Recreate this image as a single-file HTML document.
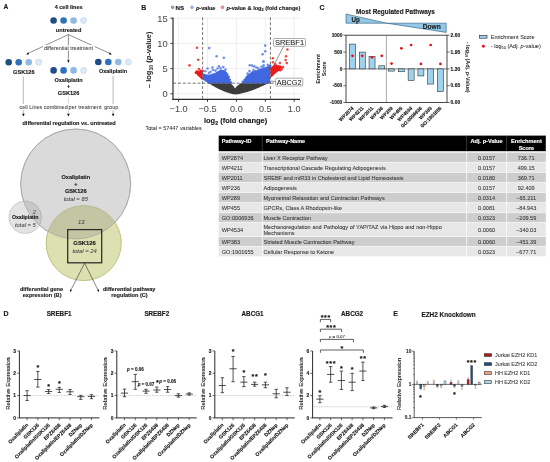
<!DOCTYPE html>
<html><head><meta charset="utf-8"><title>Figure</title>
<style>html,body{margin:0;padding:0;background:#fff;}svg{display:block;}</style></head>
<body><svg width="550" height="462" viewBox="0 0 550 462" font-family="&apos;Liberation Sans&apos;, Arial, sans-serif">
<rect width="550" height="462" fill="#fff"/>
<text x="3.60" y="8.80" font-size="6.6" font-weight="bold" fill="#1a1a1a" stroke="#1a1a1a" stroke-width="0.14">A</text>
<text x="68.60" y="8.70" font-size="5.5" font-weight="bold" text-anchor="middle" fill="#1a1a1a" stroke="#1a1a1a" stroke-width="0.14">4 cell lines</text>
<circle cx="53.60" cy="20.50" r="3.30" fill="#1f4e87"/>
<circle cx="63.60" cy="20.50" r="3.30" fill="#2f72bb"/>
<circle cx="73.60" cy="20.50" r="3.30" fill="#8fb8e3"/>
<circle cx="83.60" cy="20.50" r="3.05" fill="#dde9f6" stroke="#b5cdea" stroke-width="0.5"/>
<text x="68.60" y="31.90" font-size="5.6" font-weight="bold" text-anchor="middle" fill="#1a1a1a" stroke="#1a1a1a" stroke-width="0.14">untreated</text>
<line x1="68.40" y1="34.60" x2="27.60" y2="53.60" stroke="#333" stroke-width="0.55"/>
<line x1="68.40" y1="34.60" x2="110.40" y2="53.70" stroke="#333" stroke-width="0.55"/>
<line x1="68.40" y1="34.60" x2="68.40" y2="61.00" stroke="#333" stroke-width="0.55"/>
<polygon points="26.20,54.40 28.04,52.21 29.06,54.38" fill="#111111"/>
<polygon points="111.80,54.40 108.94,54.42 109.93,52.23" fill="#111111"/>
<polygon points="68.40,62.90 67.20,60.30 69.60,60.30" fill="#111111"/>
<rect x="43.00" y="45.00" width="51.50" height="5.60" fill="#fff"/>
<text x="68.40" y="49.90" font-size="5.4" text-anchor="middle" fill="#444444" stroke="#444444" stroke-width="0.06">differential treatment</text>
<circle cx="8.70" cy="62.20" r="3.30" fill="#1f4e87"/>
<circle cx="18.70" cy="62.20" r="3.30" fill="#2f72bb"/>
<circle cx="28.70" cy="62.20" r="3.30" fill="#8fb8e3"/>
<circle cx="38.70" cy="62.20" r="3.05" fill="#dde9f6" stroke="#b5cdea" stroke-width="0.5"/>
<text x="23.80" y="73.60" font-size="5.6" font-weight="bold" text-anchor="middle" fill="#1a1a1a" stroke="#1a1a1a" stroke-width="0.14">GSK126</text>
<circle cx="53.60" cy="70.40" r="3.30" fill="#1f4e87"/>
<circle cx="63.60" cy="70.40" r="3.30" fill="#2f72bb"/>
<circle cx="73.60" cy="70.40" r="3.30" fill="#8fb8e3"/>
<circle cx="83.60" cy="70.40" r="3.05" fill="#dde9f6" stroke="#b5cdea" stroke-width="0.5"/>
<text x="68.60" y="81.80" font-size="5.5" font-weight="bold" text-anchor="middle" fill="#1a1a1a" stroke="#1a1a1a" stroke-width="0.14">Oxaliplatin</text>
<text x="68.60" y="88.00" font-size="5.5" font-weight="bold" text-anchor="middle" fill="#1a1a1a" stroke="#1a1a1a" stroke-width="0.14">+</text>
<text x="68.60" y="95.00" font-size="5.6" font-weight="bold" text-anchor="middle" fill="#1a1a1a" stroke="#1a1a1a" stroke-width="0.14">GSK126</text>
<circle cx="98.30" cy="62.00" r="3.30" fill="#1f4e87"/>
<circle cx="108.30" cy="62.00" r="3.30" fill="#2f72bb"/>
<circle cx="118.30" cy="62.00" r="3.30" fill="#8fb8e3"/>
<circle cx="128.30" cy="62.00" r="3.05" fill="#dde9f6" stroke="#b5cdea" stroke-width="0.5"/>
<text x="113.00" y="73.00" font-size="5.5" font-weight="bold" text-anchor="middle" fill="#1a1a1a" stroke="#1a1a1a" stroke-width="0.14">Oxaliplatin</text>
<line x1="23.30" y1="76.50" x2="23.30" y2="114.80" stroke="#707070" stroke-width="0.5"/>
<line x1="113.10" y1="75.80" x2="113.10" y2="114.80" stroke="#707070" stroke-width="0.5"/>
<line x1="68.40" y1="97.50" x2="68.40" y2="114.80" stroke="#b0b0b0" stroke-width="0.5"/>
<rect x="18.50" y="104.00" width="100.50" height="6.20" fill="#fff"/>
<text x="19.40" y="108.60" font-size="5.5" fill="#444444" stroke="#444444" stroke-width="0.06">cell Lines combined</text>
<text x="68.60" y="108.60" font-size="5.55" fill="#444444" stroke="#444444" stroke-width="0.06">per treatment</text>
<text x="104.20" y="108.60" font-size="5.5" fill="#444444" stroke="#444444" stroke-width="0.06">group</text>
<polygon points="23.40,116.60 22.05,113.70 24.75,113.70" fill="#111111"/>
<polygon points="68.40,116.60 67.05,113.70 69.75,113.70" fill="#111111"/>
<polygon points="113.10,116.60 111.75,113.70 114.45,113.70" fill="#111111"/>
<text x="69.10" y="125.40" font-size="5.58" font-weight="bold" text-anchor="middle" fill="#1a1a1a" stroke="#1a1a1a" stroke-width="0.14">differential regulation vs. untreated</text>
<defs><clipPath id="cBig"><circle cx="75.7" cy="184" r="55"/></clipPath></defs>
<circle cx="83.70" cy="243.00" r="37.50" fill="#dde0b1" stroke="#b6bc74" stroke-width="0.65"/>
<circle cx="75.70" cy="184.00" r="55.00" fill="#dadada" stroke="#9d9d9d" stroke-width="0.6"/>
<g clip-path="url(#cBig)">
<circle cx="83.70" cy="243.00" r="37.50" fill="#c4c6a3"/>
<circle cx="25.20" cy="217.30" r="16.30" fill="#c8c8c8"/>
</g>
<defs><clipPath id="cOut"><path d="M0,150 H140 V300 H0 Z M130.7,184 A55,55 0 1,0 20.7,184 A55,55 0 1,0 130.7,184 Z" clip-rule="evenodd"/></clipPath></defs>
<g clip-path="url(#cOut)">
<circle cx="25.20" cy="217.30" r="16.30" fill="#e3e3e3" stroke="#b5b5b5" stroke-width="0.6"/>
<circle cx="83.70" cy="243.00" r="37.50" fill="#dde0b1" stroke="#b6bc74" stroke-width="0.65"/>
</g>
<circle cx="75.70" cy="184.00" r="55.00" fill="none" stroke="#9d9d9d" stroke-width="0.6"/>
<g clip-path="url(#cBig)">
<circle cx="83.70" cy="243.00" r="37.50" fill="none" stroke="#a9ad7c" stroke-width="0.6"/>
<circle cx="25.20" cy="217.30" r="16.30" fill="none" stroke="#a5a5a5" stroke-width="0.6"/>
</g>
<text x="75.80" y="179.00" font-size="5.6" font-weight="bold" text-anchor="middle" fill="#1a1a1a" stroke="#1a1a1a" stroke-width="0.14">Oxaliplatin</text>
<text x="75.80" y="185.60" font-size="5.5" font-weight="bold" text-anchor="middle" fill="#1a1a1a" stroke="#1a1a1a" stroke-width="0.14">+</text>
<text x="75.80" y="192.90" font-size="5.7" font-weight="bold" text-anchor="middle" fill="#1a1a1a" stroke="#1a1a1a" stroke-width="0.14">GSK126</text>
<text x="75.80" y="200.50" font-size="5.85" font-style="italic" text-anchor="middle" fill="#444" stroke="#444" stroke-width="0.06">total = 65</text>
<text x="34.40" y="213.80" font-size="5.8" font-style="italic" text-anchor="middle" fill="#444" stroke="#444" stroke-width="0.06">2</text>
<text x="25.20" y="219.20" font-size="5.2" font-weight="bold" text-anchor="middle" fill="#1a1a1a" stroke="#1a1a1a" stroke-width="0.14">Oxaliplatin</text>
<text x="25.40" y="226.70" font-size="5.8" font-style="italic" text-anchor="middle" fill="#444" stroke="#444" stroke-width="0.06">total = 5</text>
<text x="81.20" y="223.70" font-size="5.8" font-style="italic" text-anchor="middle" fill="#444" stroke="#444" stroke-width="0.06">13</text>
<rect x="67.70" y="229.60" width="34.00" height="33.20" fill="none" stroke="#2a2a2a" stroke-width="1.25"/>
<text x="84.60" y="245.40" font-size="5.9" font-weight="bold" text-anchor="middle" fill="#1a1a1a" stroke="#1a1a1a" stroke-width="0.14">GSK126</text>
<text x="84.60" y="253.10" font-size="5.85" font-style="italic" text-anchor="middle" fill="#444" stroke="#444" stroke-width="0.06">total = 24</text>
<line x1="84.60" y1="263.20" x2="71.00" y2="289.80" stroke="#111111" stroke-width="0.5"/>
<line x1="84.60" y1="263.20" x2="97.90" y2="289.80" stroke="#111111" stroke-width="0.5"/>
<polygon points="70.00,292.00 69.98,289.36 71.99,290.26" fill="#111111"/>
<polygon points="99.00,292.00 97.01,290.26 99.02,289.36" fill="#111111"/>
<text x="41.50" y="290.90" font-size="5.6" font-weight="bold" text-anchor="middle" fill="#1a1a1a" stroke="#1a1a1a" stroke-width="0.14">differential gene</text>
<text x="42.10" y="297.40" font-size="5.6" font-weight="bold" text-anchor="middle" fill="#1a1a1a" stroke="#1a1a1a" stroke-width="0.14">expression (B)</text>
<text x="129.20" y="290.90" font-size="5.6" font-weight="bold" text-anchor="middle" fill="#1a1a1a" stroke="#1a1a1a" stroke-width="0.14">differential pathway</text>
<text x="129.50" y="297.40" font-size="5.6" font-weight="bold" text-anchor="middle" fill="#1a1a1a" stroke="#1a1a1a" stroke-width="0.14">regulation (C)</text>
<text x="141.20" y="9.90" font-size="7" font-weight="bold" fill="#1a1a1a" stroke="#1a1a1a" stroke-width="0.14">B</text>
<line x1="178.60" y1="17.40" x2="178.60" y2="99.30" stroke="#e4e4e4" stroke-width="0.6"/>
<line x1="207.50" y1="17.40" x2="207.50" y2="99.30" stroke="#e4e4e4" stroke-width="0.6"/>
<line x1="236.40" y1="17.40" x2="236.40" y2="99.30" stroke="#e4e4e4" stroke-width="0.6"/>
<line x1="265.30" y1="17.40" x2="265.30" y2="99.30" stroke="#e4e4e4" stroke-width="0.6"/>
<line x1="294.20" y1="17.40" x2="294.20" y2="99.30" stroke="#e4e4e4" stroke-width="0.6"/>
<line x1="173.00" y1="93.80" x2="301.50" y2="93.80" stroke="#e4e4e4" stroke-width="0.6"/>
<line x1="173.00" y1="68.60" x2="301.50" y2="68.60" stroke="#e4e4e4" stroke-width="0.6"/>
<line x1="173.00" y1="43.40" x2="301.50" y2="43.40" stroke="#e4e4e4" stroke-width="0.6"/>
<line x1="173.00" y1="18.20" x2="301.50" y2="18.20" stroke="#e4e4e4" stroke-width="0.6"/>
<circle cx="172.60" cy="7.30" r="1.35" fill="#b0b0b0" stroke="#5a5a5a" stroke-width="0.55"/>
<text x="175.60" y="9.50" font-size="6.2" font-weight="bold" fill="#1a1a1a" stroke="#1a1a1a" stroke-width="0.14">NS</text>
<circle cx="192.00" cy="7.30" r="1.35" fill="#a9bbf0" stroke="#5f7fe4" stroke-width="0.55"/>
<text x="195.90" y="9.50" font-size="5.6" font-weight="bold" fill="#1a1a1a" stroke="#1a1a1a" stroke-width="0.14"><tspan font-style="italic">p</tspan>-value</text>
<circle cx="222.50" cy="7.30" r="1.35" fill="#f6a0a0" stroke="#ec2a2a" stroke-width="0.55"/>
<text x="226.40" y="9.50" font-size="5.6" font-weight="bold" fill="#1a1a1a" stroke="#1a1a1a" stroke-width="0.14"><tspan font-style="italic">p</tspan>-value &amp; log<tspan font-size="3.8" dy="1.2">2</tspan><tspan dy="-1.2"> (fold change)</tspan></text>
<polygon points="208.30,83.20 209.30,83.67 210.30,84.28 211.30,84.87 212.29,85.46 213.29,86.03 214.29,86.59 215.29,87.13 216.29,87.66 217.28,88.18 218.28,88.69 219.28,89.17 220.28,89.65 221.28,90.11 222.28,90.55 223.28,90.98 224.27,91.39 225.27,91.78 226.27,92.16 227.27,92.51 228.27,92.84 229.27,93.15 230.26,93.44 231.26,93.70 232.26,93.93 233.26,94.13 234.26,94.29 235.25,94.39 236.25,94.36 237.25,94.26 238.25,94.13 239.25,93.96 240.25,93.78 241.25,93.57 242.24,93.35 243.24,93.11 244.24,92.85 245.24,92.58 246.24,92.29 247.23,91.99 248.23,91.67 249.23,91.35 250.23,91.01 251.23,90.66 252.23,90.30 253.22,89.92 254.22,89.54 255.22,89.15 256.22,88.74 257.22,88.33 258.22,87.90 259.21,87.47 260.21,87.03 261.21,86.58 262.21,86.12 263.21,85.65 264.21,85.17 265.20,84.69 266.20,84.19 267.20,83.69 268.20,83.20 268.20,83.20 240.50,83.20 236.60,86.60 235.00,88.40 233.60,86.20 230.60,83.20 208.30,83.20" fill="#3c3c3c"/>
<polygon points="208.50,83.40 202.70,79.50 202.70,74.40 204.40,75.00 206.00,75.50 207.50,75.80 209.00,75.70 210.90,75.40 212.50,74.80 214.50,73.90 216.70,73.00 218.20,72.20 219.60,71.50 221.00,71.00 222.50,70.90 224.00,71.20 225.00,71.90 226.20,73.10 227.40,74.80 228.70,77.00 229.80,79.70 230.90,82.50 231.40,83.40" fill="#4067e0"/>
<polygon points="241.50,83.40 242.80,81.60 244.70,79.60 246.20,77.80 247.60,76.20 249.00,75.00 250.50,73.90 252.00,72.80 253.50,71.80 255.50,71.20 257.80,70.60 259.30,70.10 260.70,69.60 262.20,69.20 263.60,68.80 265.00,68.40 266.50,68.00 268.00,67.20 269.20,66.20 270.20,65.60 270.20,83.40" fill="#4067e0"/>
<circle cx="202.70" cy="74.40" r="1.20" fill="#4067e0"/>
<circle cx="204.40" cy="75.00" r="1.20" fill="#4067e0"/>
<circle cx="206.00" cy="75.50" r="1.20" fill="#4067e0"/>
<circle cx="207.50" cy="75.80" r="1.20" fill="#4067e0"/>
<circle cx="209.00" cy="75.70" r="1.20" fill="#4067e0"/>
<circle cx="210.90" cy="75.40" r="1.20" fill="#4067e0"/>
<circle cx="212.50" cy="74.80" r="1.20" fill="#4067e0"/>
<circle cx="214.50" cy="73.90" r="1.20" fill="#4067e0"/>
<circle cx="216.70" cy="73.00" r="1.20" fill="#4067e0"/>
<circle cx="218.20" cy="72.20" r="1.20" fill="#4067e0"/>
<circle cx="219.60" cy="71.50" r="1.20" fill="#4067e0"/>
<circle cx="221.00" cy="71.00" r="1.20" fill="#4067e0"/>
<circle cx="222.50" cy="70.90" r="1.20" fill="#4067e0"/>
<circle cx="224.00" cy="71.20" r="1.20" fill="#4067e0"/>
<circle cx="225.00" cy="71.90" r="1.20" fill="#4067e0"/>
<circle cx="226.20" cy="73.10" r="1.20" fill="#4067e0"/>
<circle cx="227.40" cy="74.80" r="1.20" fill="#4067e0"/>
<circle cx="228.70" cy="77.00" r="1.20" fill="#4067e0"/>
<circle cx="229.80" cy="79.70" r="1.20" fill="#4067e0"/>
<circle cx="230.90" cy="82.50" r="1.20" fill="#4067e0"/>
<circle cx="242.80" cy="81.60" r="1.20" fill="#4067e0"/>
<circle cx="244.70" cy="79.60" r="1.20" fill="#4067e0"/>
<circle cx="246.20" cy="77.80" r="1.20" fill="#4067e0"/>
<circle cx="247.60" cy="76.20" r="1.20" fill="#4067e0"/>
<circle cx="249.00" cy="75.00" r="1.20" fill="#4067e0"/>
<circle cx="250.50" cy="73.90" r="1.20" fill="#4067e0"/>
<circle cx="252.00" cy="72.80" r="1.20" fill="#4067e0"/>
<circle cx="253.50" cy="71.80" r="1.20" fill="#4067e0"/>
<circle cx="255.50" cy="71.20" r="1.20" fill="#4067e0"/>
<circle cx="257.80" cy="70.60" r="1.20" fill="#4067e0"/>
<circle cx="259.30" cy="70.10" r="1.20" fill="#4067e0"/>
<circle cx="260.70" cy="69.60" r="1.20" fill="#4067e0"/>
<circle cx="262.20" cy="69.20" r="1.20" fill="#4067e0"/>
<circle cx="263.60" cy="68.80" r="1.20" fill="#4067e0"/>
<circle cx="265.00" cy="68.40" r="1.20" fill="#4067e0"/>
<circle cx="266.50" cy="68.00" r="1.20" fill="#4067e0"/>
<circle cx="268.00" cy="67.20" r="1.20" fill="#4067e0"/>
<circle cx="269.20" cy="66.20" r="1.20" fill="#4067e0"/>
<circle cx="270.20" cy="65.60" r="1.20" fill="#4067e0"/>
<circle cx="207.60" cy="68.50" r="1.30" fill="#6f8ee8"/>
<circle cx="209.10" cy="72.90" r="1.30" fill="#6f8ee8"/>
<circle cx="212.40" cy="67.50" r="1.30" fill="#6f8ee8"/>
<circle cx="213.10" cy="70.00" r="1.30" fill="#6f8ee8"/>
<circle cx="217.50" cy="68.50" r="1.30" fill="#6f8ee8"/>
<circle cx="218.90" cy="66.40" r="1.30" fill="#6f8ee8"/>
<circle cx="223.30" cy="67.10" r="1.30" fill="#6f8ee8"/>
<circle cx="225.50" cy="69.60" r="1.30" fill="#6f8ee8"/>
<circle cx="223.80" cy="57.80" r="1.30" fill="#6f8ee8"/>
<circle cx="216.60" cy="56.30" r="1.30" fill="#6f8ee8"/>
<circle cx="209.20" cy="48.10" r="1.30" fill="#6f8ee8"/>
<circle cx="205.20" cy="71.20" r="1.30" fill="#6f8ee8"/>
<circle cx="210.60" cy="71.80" r="1.30" fill="#6f8ee8"/>
<circle cx="215.50" cy="70.60" r="1.30" fill="#6f8ee8"/>
<circle cx="220.60" cy="68.40" r="1.30" fill="#6f8ee8"/>
<circle cx="249.80" cy="65.30" r="1.30" fill="#6f8ee8"/>
<circle cx="252.00" cy="65.60" r="1.30" fill="#6f8ee8"/>
<circle cx="254.20" cy="66.40" r="1.30" fill="#6f8ee8"/>
<circle cx="256.40" cy="67.50" r="1.30" fill="#6f8ee8"/>
<circle cx="258.20" cy="68.20" r="1.30" fill="#6f8ee8"/>
<circle cx="249.50" cy="71.10" r="1.30" fill="#6f8ee8"/>
<circle cx="253.50" cy="70.00" r="1.30" fill="#6f8ee8"/>
<circle cx="263.30" cy="61.30" r="1.30" fill="#6f8ee8"/>
<circle cx="263.60" cy="65.30" r="1.30" fill="#6f8ee8"/>
<circle cx="263.40" cy="67.00" r="1.30" fill="#6f8ee8"/>
<circle cx="267.80" cy="64.80" r="1.30" fill="#6f8ee8"/>
<circle cx="265.20" cy="45.60" r="1.30" fill="#6f8ee8"/>
<circle cx="265.20" cy="51.20" r="1.30" fill="#6f8ee8"/>
<circle cx="262.60" cy="54.20" r="1.30" fill="#6f8ee8"/>
<circle cx="263.60" cy="61.80" r="1.30" fill="#6f8ee8"/>
<circle cx="247.60" cy="73.60" r="1.30" fill="#6f8ee8"/>
<circle cx="261.50" cy="66.80" r="1.30" fill="#6f8ee8"/>
<polygon points="195.80,72.80 196.80,71.40 198.60,71.80 200.60,70.80 202.60,71.00 202.60,80.60 201.00,78.80 199.00,76.80 197.00,75.00" fill="#ee1a1a"/>
<circle cx="195.80" cy="72.80" r="1.20" fill="#ee1a1a"/>
<circle cx="196.80" cy="71.40" r="1.20" fill="#ee1a1a"/>
<circle cx="198.60" cy="71.80" r="1.20" fill="#ee1a1a"/>
<circle cx="200.60" cy="70.80" r="1.20" fill="#ee1a1a"/>
<circle cx="202.60" cy="71.00" r="1.20" fill="#ee1a1a"/>
<polygon points="270.40,77.80 270.40,69.20 272.00,67.60 273.50,66.80 275.00,66.20 276.50,65.80 278.30,66.30 280.10,66.80 282.00,67.80 280.10,70.20 278.00,71.60 276.00,73.00 273.80,75.00 271.80,77.00" fill="#ee1a1a"/>
<circle cx="270.40" cy="69.20" r="1.20" fill="#ee1a1a"/>
<circle cx="272.00" cy="67.60" r="1.20" fill="#ee1a1a"/>
<circle cx="273.50" cy="66.80" r="1.20" fill="#ee1a1a"/>
<circle cx="275.00" cy="66.20" r="1.20" fill="#ee1a1a"/>
<circle cx="276.50" cy="65.80" r="1.20" fill="#ee1a1a"/>
<circle cx="278.30" cy="66.30" r="1.20" fill="#ee1a1a"/>
<circle cx="280.10" cy="66.80" r="1.20" fill="#ee1a1a"/>
<circle cx="282.00" cy="67.80" r="1.20" fill="#ee1a1a"/>
<circle cx="280.10" cy="70.20" r="1.20" fill="#ee1a1a"/>
<circle cx="197.00" cy="47.80" r="1.30" fill="#f04848"/>
<circle cx="198.20" cy="59.70" r="1.30" fill="#f04848"/>
<circle cx="189.50" cy="65.40" r="1.30" fill="#f04848"/>
<circle cx="198.90" cy="69.00" r="1.30" fill="#f04848"/>
<circle cx="287.40" cy="49.50" r="1.30" fill="#f04848"/>
<circle cx="286.00" cy="56.20" r="1.30" fill="#f04848"/>
<circle cx="285.60" cy="60.10" r="1.30" fill="#f04848"/>
<circle cx="286.80" cy="63.10" r="1.30" fill="#f04848"/>
<circle cx="272.90" cy="58.30" r="1.30" fill="#f04848"/>
<circle cx="272.90" cy="62.20" r="1.30" fill="#f04848"/>
<circle cx="279.90" cy="63.10" r="1.30" fill="#f04848"/>
<circle cx="275.30" cy="64.30" r="1.30" fill="#f04848"/>
<circle cx="283.00" cy="67.00" r="1.30" fill="#f04848"/>
<circle cx="281.50" cy="69.20" r="1.30" fill="#f04848"/>
<line x1="202.60" y1="17.40" x2="202.60" y2="99.30" stroke="#505050" stroke-width="0.8" stroke-dasharray="3.0,1.9"/>
<line x1="270.40" y1="17.40" x2="270.40" y2="99.30" stroke="#505050" stroke-width="0.8" stroke-dasharray="3.0,1.9"/>
<line x1="173.00" y1="83.20" x2="301.50" y2="83.20" stroke="#505050" stroke-width="0.8" stroke-dasharray="3.0,1.9"/>
<line x1="173.00" y1="17.40" x2="173.00" y2="99.80" stroke="#2a2a2a" stroke-width="1.2"/>
<line x1="172.40" y1="99.30" x2="300.00" y2="99.30" stroke="#2a2a2a" stroke-width="1.2"/>
<line x1="170.40" y1="93.80" x2="173.00" y2="93.80" stroke="#2a2a2a" stroke-width="0.9"/>
<text x="167.60" y="97.10" font-size="9.3" text-anchor="end" fill="#4d4d4d" stroke="#4d4d4d" stroke-width="0.06">0</text>
<line x1="170.40" y1="68.60" x2="173.00" y2="68.60" stroke="#2a2a2a" stroke-width="0.9"/>
<text x="167.60" y="71.90" font-size="9.3" text-anchor="end" fill="#4d4d4d" stroke="#4d4d4d" stroke-width="0.06">5</text>
<line x1="170.40" y1="43.40" x2="173.00" y2="43.40" stroke="#2a2a2a" stroke-width="0.9"/>
<text x="167.60" y="46.70" font-size="9.3" text-anchor="end" fill="#4d4d4d" stroke="#4d4d4d" stroke-width="0.06">10</text>
<line x1="170.40" y1="18.20" x2="173.00" y2="18.20" stroke="#2a2a2a" stroke-width="0.9"/>
<text x="167.60" y="21.50" font-size="9.3" text-anchor="end" fill="#4d4d4d" stroke="#4d4d4d" stroke-width="0.06">15</text>
<line x1="178.60" y1="99.30" x2="178.60" y2="101.90" stroke="#2a2a2a" stroke-width="0.9"/>
<text x="178.60" y="112.20" font-size="9.1" text-anchor="middle" fill="#4d4d4d" stroke="#4d4d4d" stroke-width="0.06">−1.0</text>
<line x1="207.50" y1="99.30" x2="207.50" y2="101.90" stroke="#2a2a2a" stroke-width="0.9"/>
<text x="207.50" y="112.20" font-size="9.1" text-anchor="middle" fill="#4d4d4d" stroke="#4d4d4d" stroke-width="0.06">−0.5</text>
<line x1="236.40" y1="99.30" x2="236.40" y2="101.90" stroke="#2a2a2a" stroke-width="0.9"/>
<text x="236.40" y="112.20" font-size="9.1" text-anchor="middle" fill="#4d4d4d" stroke="#4d4d4d" stroke-width="0.06">0.0</text>
<line x1="265.30" y1="99.30" x2="265.30" y2="101.90" stroke="#2a2a2a" stroke-width="0.9"/>
<text x="265.30" y="112.20" font-size="9.1" text-anchor="middle" fill="#4d4d4d" stroke="#4d4d4d" stroke-width="0.06">0.5</text>
<line x1="294.20" y1="99.30" x2="294.20" y2="101.90" stroke="#2a2a2a" stroke-width="0.9"/>
<text x="294.20" y="112.20" font-size="9.1" text-anchor="middle" fill="#4d4d4d" stroke="#4d4d4d" stroke-width="0.06">1.0</text>
<text x="235.60" y="122.80" font-size="7.5" font-weight="bold" text-anchor="middle" fill="#1a1a1a" stroke="#1a1a1a" stroke-width="0.14">log<tspan font-size="5.2" dy="1.7">2</tspan><tspan dy="-1.7"> (fold change)</tspan></text>
<text transform="translate(151.2,59.8) rotate(-90)" font-size="7.5" font-weight="bold" text-anchor="middle" fill="#1a1a1a">– log<tspan font-size="5.2" dy="1.7">10</tspan><tspan dy="-1.7"> (</tspan><tspan font-style="italic">p</tspan>-value)</text>
<text x="145.60" y="129.50" font-size="5.45" fill="#333" stroke="#333" stroke-width="0.06">Total = 57447 variables</text>
<line x1="283.80" y1="46.00" x2="273.40" y2="66.10" stroke="#222" stroke-width="0.5"/>
<line x1="275.80" y1="81.60" x2="271.00" y2="81.00" stroke="#222" stroke-width="0.5"/>
<rect x="273.5" y="38.5" width="32.0" height="7.8" rx="1" fill="#fff" stroke="#666" stroke-width="0.55"/>
<text x="289.50" y="44.90" font-size="7.5" text-anchor="middle" fill="#1a1a1a" stroke="#1a1a1a" stroke-width="0.06">SREBF1</text>
<rect x="275.6" y="78.2" width="27.2" height="7.8" rx="1" fill="#fff" stroke="#666" stroke-width="0.55"/>
<text x="289.20" y="84.60" font-size="7.3" text-anchor="middle" fill="#1a1a1a" stroke="#1a1a1a" stroke-width="0.06">ABCG2</text>
<text x="319.40" y="10.20" font-size="7" font-weight="bold" fill="#1a1a1a" stroke="#1a1a1a" stroke-width="0.14">C</text>
<text x="356.00" y="13.60" font-size="6.4" font-weight="bold" fill="#1a1a1a" stroke="#1a1a1a" stroke-width="0.14">Most Regulated Pathways</text>
<polygon points="346.00,14.00 346.00,23.20 386.60,23.20" fill="#93c9e6" stroke="#2c5878" stroke-width="0.6"/>
<polygon points="386.60,23.20 446.20,23.20 446.20,32.40" fill="#93c9e6" stroke="#2c5878" stroke-width="0.6"/>
<text x="351.40" y="22.00" font-size="6.3" font-weight="bold" fill="#1a1a1a" stroke="#1a1a1a" stroke-width="0.14">Up</text>
<text x="422.80" y="29.30" font-size="6.6" font-weight="bold" fill="#1a1a1a" stroke="#1a1a1a" stroke-width="0.14">Down</text>
<rect x="346.00" y="35.20" width="101.00" height="67.30" fill="none" stroke="#2a2a2a" stroke-width="0.85"/>
<line x1="386.40" y1="35.20" x2="386.40" y2="102.50" stroke="#555" stroke-width="0.5"/>
<line x1="346.00" y1="68.90" x2="447.00" y2="68.90" stroke="#222" stroke-width="0.6"/>
<line x1="343.40" y1="35.24" x2="346.00" y2="35.24" stroke="#2a2a2a" stroke-width="0.7"/>
<text x="342.30" y="36.99" font-size="4.8" font-weight="bold" text-anchor="end" fill="#222" stroke="#222" stroke-width="0.14">1000</text>
<line x1="343.40" y1="52.07" x2="346.00" y2="52.07" stroke="#2a2a2a" stroke-width="0.7"/>
<text x="342.30" y="53.82" font-size="4.8" font-weight="bold" text-anchor="end" fill="#222" stroke="#222" stroke-width="0.14">500</text>
<line x1="343.40" y1="68.90" x2="346.00" y2="68.90" stroke="#2a2a2a" stroke-width="0.7"/>
<text x="342.30" y="70.65" font-size="4.8" font-weight="bold" text-anchor="end" fill="#222" stroke="#222" stroke-width="0.14">0</text>
<line x1="343.40" y1="85.73" x2="346.00" y2="85.73" stroke="#2a2a2a" stroke-width="0.7"/>
<text x="342.30" y="87.48" font-size="4.8" font-weight="bold" text-anchor="end" fill="#222" stroke="#222" stroke-width="0.14">-500</text>
<line x1="343.40" y1="102.56" x2="346.00" y2="102.56" stroke="#2a2a2a" stroke-width="0.7"/>
<text x="342.30" y="104.31" font-size="4.8" font-weight="bold" text-anchor="end" fill="#222" stroke="#222" stroke-width="0.14">-1000</text>
<line x1="447.00" y1="35.20" x2="449.60" y2="35.20" stroke="#2a2a2a" stroke-width="0.7"/>
<text x="450.60" y="36.95" font-size="4.9" font-weight="bold" fill="#222" stroke="#222" stroke-width="0.14">2.60</text>
<line x1="447.00" y1="52.03" x2="449.60" y2="52.03" stroke="#2a2a2a" stroke-width="0.7"/>
<text x="450.60" y="53.78" font-size="4.9" font-weight="bold" fill="#222" stroke="#222" stroke-width="0.14">1.95</text>
<line x1="447.00" y1="68.85" x2="449.60" y2="68.85" stroke="#2a2a2a" stroke-width="0.7"/>
<text x="450.60" y="70.60" font-size="4.9" font-weight="bold" fill="#222" stroke="#222" stroke-width="0.14">1.30</text>
<line x1="447.00" y1="85.67" x2="449.60" y2="85.67" stroke="#2a2a2a" stroke-width="0.7"/>
<text x="450.60" y="87.42" font-size="4.9" font-weight="bold" fill="#222" stroke="#222" stroke-width="0.14">0.65</text>
<line x1="447.00" y1="102.50" x2="449.60" y2="102.50" stroke="#2a2a2a" stroke-width="0.7"/>
<text x="450.60" y="104.25" font-size="4.9" font-weight="bold" fill="#222" stroke="#222" stroke-width="0.14">0.00</text>
<rect x="349.50" y="44.10" width="6.00" height="24.80" fill="#9fd2ec" stroke="#222" stroke-width="0.55"/>
<rect x="359.27" y="52.10" width="6.00" height="16.80" fill="#9fd2ec" stroke="#222" stroke-width="0.55"/>
<rect x="369.04" y="56.46" width="6.00" height="12.44" fill="#9fd2ec" stroke="#222" stroke-width="0.55"/>
<rect x="378.81" y="65.79" width="6.00" height="3.11" fill="#9fd2ec" stroke="#222" stroke-width="0.55"/>
<rect x="388.58" y="68.90" width="6.00" height="2.20" fill="#9fd2ec" stroke="#222" stroke-width="0.55"/>
<rect x="398.35" y="68.90" width="6.00" height="2.86" fill="#9fd2ec" stroke="#222" stroke-width="0.55"/>
<rect x="408.12" y="68.90" width="6.00" height="11.45" fill="#9fd2ec" stroke="#222" stroke-width="0.55"/>
<rect x="417.89" y="68.90" width="6.00" height="7.05" fill="#9fd2ec" stroke="#222" stroke-width="0.55"/>
<rect x="427.66" y="68.90" width="6.00" height="15.19" fill="#9fd2ec" stroke="#222" stroke-width="0.55"/>
<rect x="437.43" y="68.90" width="6.00" height="22.81" fill="#9fd2ec" stroke="#222" stroke-width="0.55"/>
<circle cx="352.50" cy="55.80" r="1.35" fill="#e3101b"/>
<circle cx="362.27" cy="55.80" r="1.35" fill="#e3101b"/>
<circle cx="372.04" cy="57.34" r="1.35" fill="#e3101b"/>
<circle cx="381.81" cy="55.80" r="1.35" fill="#e3101b"/>
<circle cx="391.58" cy="63.59" r="1.35" fill="#e3101b"/>
<circle cx="401.35" cy="48.36" r="1.35" fill="#e3101b"/>
<circle cx="411.12" cy="44.99" r="1.35" fill="#e3101b"/>
<circle cx="420.89" cy="63.91" r="1.35" fill="#e3101b"/>
<circle cx="430.66" cy="44.99" r="1.35" fill="#e3101b"/>
<circle cx="440.43" cy="63.91" r="1.35" fill="#e3101b"/>
<text transform="translate(354.00,108.5) rotate(-45)" font-size="4.8" font-weight="bold" text-anchor="end" fill="#111" stroke="#111" stroke-width="0.12">WP2874</text>
<text transform="translate(363.77,108.5) rotate(-45)" font-size="4.8" font-weight="bold" text-anchor="end" fill="#111" stroke="#111" stroke-width="0.12">WP4211</text>
<text transform="translate(373.54,108.5) rotate(-45)" font-size="4.8" font-weight="bold" text-anchor="end" fill="#111" stroke="#111" stroke-width="0.12">WP2011</text>
<text transform="translate(383.31,108.5) rotate(-45)" font-size="4.8" font-weight="bold" text-anchor="end" fill="#111" stroke="#111" stroke-width="0.12">WP236</text>
<text transform="translate(393.08,108.5) rotate(-45)" font-size="4.8" font-weight="bold" text-anchor="end" fill="#111" stroke="#111" stroke-width="0.12">WP289</text>
<text transform="translate(402.85,108.5) rotate(-45)" font-size="4.8" font-weight="bold" text-anchor="end" fill="#111" stroke="#111" stroke-width="0.12">WP455</text>
<text transform="translate(412.62,108.5) rotate(-45)" font-size="4.8" font-weight="bold" text-anchor="end" fill="#111" stroke="#111" stroke-width="0.12">WP4534</text>
<text transform="translate(422.39,108.5) rotate(-45)" font-size="4.8" font-weight="bold" text-anchor="end" fill="#111" stroke="#111" stroke-width="0.12">GO:0006936</text>
<text transform="translate(432.16,108.5) rotate(-45)" font-size="4.8" font-weight="bold" text-anchor="end" fill="#111" stroke="#111" stroke-width="0.12">WP383</text>
<text transform="translate(441.93,108.5) rotate(-45)" font-size="4.8" font-weight="bold" text-anchor="end" fill="#111" stroke="#111" stroke-width="0.12">GO:1901655</text>
<text transform="translate(319.8,68.9) rotate(-90)" font-size="5.3" font-weight="bold" text-anchor="middle" fill="#222">Enrichment</text>
<text transform="translate(326.0,68.9) rotate(-90)" font-size="5.3" font-weight="bold" text-anchor="middle" fill="#222">Score</text>
<text transform="translate(465.9,67.2) rotate(90)" font-size="5.35" font-weight="bold" text-anchor="middle" fill="#222">- log<tspan font-size="3.6" dy="1.2">10</tspan><tspan dy="-1.2"> (Adj. </tspan><tspan font-style="italic">p</tspan>-Value)</text>
<rect x="479.60" y="35.30" width="7.40" height="2.90" fill="#9fd2ec" stroke="#222" stroke-width="0.6"/>
<text x="490.80" y="38.70" font-size="5.5" fill="#2a2a2a" stroke="#2a2a2a" stroke-width="0.06">Enrichment Score</text>
<circle cx="483.40" cy="46.20" r="1.45" fill="#e3101b"/>
<text x="490.80" y="47.90" font-size="5.6" fill="#2a2a2a" stroke="#2a2a2a" stroke-width="0.06">- log<tspan font-size="3.8" dy="1.2">10</tspan><tspan dy="-1.2"> (Adj. </tspan><tspan font-style="italic">p</tspan>-value)</text>
<rect x="218.70" y="135.60" width="327.10" height="15.60" fill="#000"/>
<line x1="262.30" y1="135.60" x2="262.30" y2="151.20" stroke="#555" stroke-width="0.6"/>
<line x1="466.60" y1="135.60" x2="466.60" y2="151.20" stroke="#555" stroke-width="0.6"/>
<line x1="506.60" y1="135.60" x2="506.60" y2="151.20" stroke="#555" stroke-width="0.6"/>
<text x="221.80" y="142.60" font-size="5.5" font-weight="bold" fill="#fff" stroke="#fff" stroke-width="0.14">Pathway-ID</text>
<text x="266.00" y="142.60" font-size="5.5" font-weight="bold" fill="#fff" stroke="#fff" stroke-width="0.14">Pathway-Name</text>
<text x="486.60" y="143.40" font-size="5.6" font-weight="bold" text-anchor="middle" fill="#fff" stroke="#fff" stroke-width="0.14">Adj. p-Value</text>
<text x="526.40" y="143.00" font-size="5.6" font-weight="bold" text-anchor="middle" fill="#fff" stroke="#fff" stroke-width="0.14">Enrichment</text>
<text x="526.40" y="149.80" font-size="5.6" font-weight="bold" text-anchor="middle" fill="#fff" stroke="#fff" stroke-width="0.14">Score</text>
<rect x="218.70" y="152.60" width="327.10" height="9.30" fill="#cdcdcd"/>
<text x="221.80" y="159.55" font-size="5.55" fill="#333" stroke="#333" stroke-width="0.06">WP2874</text>
<text x="263.50" y="159.55" font-size="5.55" fill="#333" stroke="#333" stroke-width="0.06">Liver X Receptor Pathway</text>
<text x="486.60" y="159.55" font-size="5.55" text-anchor="middle" fill="#333" stroke="#333" stroke-width="0.06">0.0157</text>
<text x="526.20" y="159.55" font-size="5.55" text-anchor="middle" fill="#333" stroke="#333" stroke-width="0.06">736.71</text>
<rect x="218.70" y="162.40" width="327.10" height="9.90" fill="#e7e7e7"/>
<text x="221.80" y="169.65" font-size="5.55" fill="#333" stroke="#333" stroke-width="0.06">WP4211</text>
<text x="263.50" y="169.65" font-size="5.55" fill="#333" stroke="#333" stroke-width="0.06">Transcriptional  Cascade Regulating Adipogenesis</text>
<text x="486.60" y="169.65" font-size="5.55" text-anchor="middle" fill="#333" stroke="#333" stroke-width="0.06">0.0157</text>
<text x="526.20" y="169.65" font-size="5.55" text-anchor="middle" fill="#333" stroke="#333" stroke-width="0.06">499.15</text>
<rect x="218.70" y="172.80" width="327.10" height="9.40" fill="#cdcdcd"/>
<text x="221.80" y="179.80" font-size="5.55" fill="#333" stroke="#333" stroke-width="0.06">WP2011</text>
<text x="263.50" y="179.80" font-size="5.55" fill="#333" stroke="#333" stroke-width="0.06">SREBF and miR33 in Cholesterol and Lipid Homeostasis</text>
<text x="486.60" y="179.80" font-size="5.55" text-anchor="middle" fill="#333" stroke="#333" stroke-width="0.06">0.0180</text>
<text x="526.20" y="179.80" font-size="5.55" text-anchor="middle" fill="#333" stroke="#333" stroke-width="0.06">369.71</text>
<rect x="218.70" y="182.70" width="327.10" height="9.70" fill="#e7e7e7"/>
<text x="221.80" y="189.85" font-size="5.55" fill="#333" stroke="#333" stroke-width="0.06">WP236</text>
<text x="263.50" y="189.85" font-size="5.55" fill="#333" stroke="#333" stroke-width="0.06">Adipogenesis</text>
<text x="486.60" y="189.85" font-size="5.55" text-anchor="middle" fill="#333" stroke="#333" stroke-width="0.06">0.0157</text>
<text x="526.20" y="189.85" font-size="5.55" text-anchor="middle" fill="#333" stroke="#333" stroke-width="0.06">92.409</text>
<rect x="218.70" y="192.90" width="327.10" height="9.40" fill="#cdcdcd"/>
<text x="221.80" y="199.90" font-size="5.55" fill="#333" stroke="#333" stroke-width="0.06">WP289</text>
<text x="263.50" y="199.90" font-size="5.55" fill="#333" stroke="#333" stroke-width="0.06">Myometrial Relaxation and Contraction Pathways</text>
<text x="486.60" y="199.90" font-size="5.55" text-anchor="middle" fill="#333" stroke="#333" stroke-width="0.06">0.0314</text>
<text x="526.20" y="199.90" font-size="5.55" text-anchor="middle" fill="#333" stroke="#333" stroke-width="0.06">−65.211</text>
<rect x="218.70" y="202.80" width="327.10" height="9.80" fill="#e7e7e7"/>
<text x="221.80" y="210.00" font-size="5.55" fill="#333" stroke="#333" stroke-width="0.06">WP455</text>
<text x="263.50" y="210.00" font-size="5.55" fill="#333" stroke="#333" stroke-width="0.06">GPCRs, Class A Rhodopsin-like</text>
<text x="486.60" y="210.00" font-size="5.55" text-anchor="middle" fill="#333" stroke="#333" stroke-width="0.06">0.0081</text>
<text x="526.20" y="210.00" font-size="5.55" text-anchor="middle" fill="#333" stroke="#333" stroke-width="0.06">−84.943</text>
<rect x="218.70" y="213.10" width="327.10" height="9.10" fill="#cdcdcd"/>
<text x="221.80" y="219.95" font-size="5.55" fill="#333" stroke="#333" stroke-width="0.06">GO:0006936</text>
<text x="263.50" y="219.95" font-size="5.55" fill="#333" stroke="#333" stroke-width="0.06">Muscle Contraction</text>
<text x="486.60" y="219.95" font-size="5.55" text-anchor="middle" fill="#333" stroke="#333" stroke-width="0.06">0.0323</text>
<text x="526.20" y="219.95" font-size="5.55" text-anchor="middle" fill="#333" stroke="#333" stroke-width="0.06">−209.59</text>
<rect x="218.70" y="222.70" width="327.10" height="13.80" fill="#e7e7e7"/>
<text x="221.80" y="231.90" font-size="5.55" fill="#333" stroke="#333" stroke-width="0.06">WP4534</text>
<text x="263.50" y="228.90" font-size="5.55" fill="#333" stroke="#333" stroke-width="0.06" word-spacing="0.2">Mechanoregulation and Pathology of YAP/TAZ via Hippo and non-Hippo</text>
<text x="263.50" y="234.80" font-size="5.55" fill="#333" stroke="#333" stroke-width="0.06">Mechanisms</text>
<text x="486.60" y="231.90" font-size="5.55" text-anchor="middle" fill="#333" stroke="#333" stroke-width="0.06">0.0060</text>
<text x="526.20" y="231.90" font-size="5.55" text-anchor="middle" fill="#333" stroke="#333" stroke-width="0.06">−340.03</text>
<rect x="218.70" y="237.00" width="327.10" height="9.00" fill="#cdcdcd"/>
<text x="221.80" y="243.80" font-size="5.55" fill="#333" stroke="#333" stroke-width="0.06">WP383</text>
<text x="263.50" y="243.80" font-size="5.55" fill="#333" stroke="#333" stroke-width="0.06">Striated Muscle Contraction Pathway</text>
<text x="486.60" y="243.80" font-size="5.55" text-anchor="middle" fill="#333" stroke="#333" stroke-width="0.06">0.0060</text>
<text x="526.20" y="243.80" font-size="5.55" text-anchor="middle" fill="#333" stroke="#333" stroke-width="0.06">−451.39</text>
<rect x="218.70" y="246.50" width="327.10" height="9.80" fill="#e7e7e7"/>
<text x="221.80" y="253.70" font-size="5.55" fill="#333" stroke="#333" stroke-width="0.06">GO:1901655</text>
<text x="263.50" y="253.70" font-size="5.55" fill="#333" stroke="#333" stroke-width="0.06">Cellular Response to Ketone</text>
<text x="486.60" y="253.70" font-size="5.55" text-anchor="middle" fill="#333" stroke="#333" stroke-width="0.06">0.0323</text>
<text x="526.20" y="253.70" font-size="5.55" text-anchor="middle" fill="#333" stroke="#333" stroke-width="0.06">−677.71</text>
<line x1="262.30" y1="152.60" x2="262.30" y2="256.30" stroke="#fff" stroke-width="0.7"/>
<line x1="466.60" y1="152.60" x2="466.60" y2="256.30" stroke="#fff" stroke-width="0.7"/>
<line x1="506.60" y1="152.60" x2="506.60" y2="256.30" stroke="#fff" stroke-width="0.7"/>
<text x="3.40" y="316.00" font-size="7" font-weight="bold" fill="#1a1a1a" stroke="#1a1a1a" stroke-width="0.14">D</text>
<text x="59.10" y="315.80" font-size="6.3" font-weight="bold" text-anchor="middle" fill="#1a1a1a" stroke="#1a1a1a" stroke-width="0.14">SREBF1</text>
<line x1="19.40" y1="395.57" x2="99.40" y2="395.57" stroke="#9a9a9a" stroke-width="0.6" stroke-dasharray="0.75,0.85"/>
<line x1="19.40" y1="350.91" x2="19.40" y2="417.90" stroke="#2a2a2a" stroke-width="1.0"/>
<line x1="18.90" y1="417.90" x2="99.40" y2="417.90" stroke="#2a2a2a" stroke-width="1.0"/>
<line x1="17.10" y1="417.90" x2="19.40" y2="417.90" stroke="#2a2a2a" stroke-width="0.7"/>
<text x="16.10" y="419.65" font-size="4.9" font-weight="bold" text-anchor="end" fill="#222" stroke="#222" stroke-width="0.14">0</text>
<line x1="17.10" y1="395.57" x2="19.40" y2="395.57" stroke="#2a2a2a" stroke-width="0.7"/>
<text x="16.10" y="397.32" font-size="4.9" font-weight="bold" text-anchor="end" fill="#222" stroke="#222" stroke-width="0.14">1</text>
<line x1="17.10" y1="373.24" x2="19.40" y2="373.24" stroke="#2a2a2a" stroke-width="0.7"/>
<text x="16.10" y="374.99" font-size="4.9" font-weight="bold" text-anchor="end" fill="#222" stroke="#222" stroke-width="0.14">2</text>
<line x1="17.10" y1="350.91" x2="19.40" y2="350.91" stroke="#2a2a2a" stroke-width="0.7"/>
<text x="16.10" y="352.66" font-size="4.9" font-weight="bold" text-anchor="end" fill="#222" stroke="#222" stroke-width="0.14">3</text>
<line x1="27.10" y1="417.90" x2="27.10" y2="420.20" stroke="#2a2a2a" stroke-width="0.7"/>
<line x1="27.10" y1="400.48" x2="27.10" y2="390.66" stroke="#333" stroke-width="0.85"/>
<line x1="25.40" y1="400.48" x2="28.80" y2="400.48" stroke="#222" stroke-width="0.75"/>
<line x1="25.40" y1="390.66" x2="28.80" y2="390.66" stroke="#222" stroke-width="0.75"/>
<line x1="23.50" y1="395.57" x2="30.70" y2="395.57" stroke="#222" stroke-width="0.8"/>
<text transform="translate(28.80,425.4) rotate(-45)" font-size="5.15" font-weight="bold" text-anchor="end" fill="#111" stroke="#111" stroke-width="0.12">Oxaliplatin</text>
<line x1="37.83" y1="417.90" x2="37.83" y2="420.20" stroke="#2a2a2a" stroke-width="0.7"/>
<line x1="37.83" y1="387.08" x2="37.83" y2="371.45" stroke="#333" stroke-width="0.85"/>
<line x1="36.13" y1="387.08" x2="39.53" y2="387.08" stroke="#222" stroke-width="0.75"/>
<line x1="36.13" y1="371.45" x2="39.53" y2="371.45" stroke="#222" stroke-width="0.75"/>
<line x1="34.23" y1="379.49" x2="41.43" y2="379.49" stroke="#222" stroke-width="0.8"/>
<text transform="translate(39.53,425.4) rotate(-45)" font-size="5.15" font-weight="bold" text-anchor="end" fill="#111" stroke="#111" stroke-width="0.12">GSK126</text>
<line x1="48.56" y1="417.90" x2="48.56" y2="420.20" stroke="#2a2a2a" stroke-width="0.7"/>
<line x1="48.56" y1="393.56" x2="48.56" y2="389.54" stroke="#333" stroke-width="0.85"/>
<line x1="46.86" y1="393.56" x2="50.26" y2="393.56" stroke="#222" stroke-width="0.75"/>
<line x1="46.86" y1="389.54" x2="50.26" y2="389.54" stroke="#222" stroke-width="0.75"/>
<line x1="44.96" y1="391.55" x2="52.16" y2="391.55" stroke="#222" stroke-width="0.8"/>
<text transform="translate(50.26,425.4) rotate(-45)" font-size="5.15" font-weight="bold" text-anchor="end" fill="#111" stroke="#111" stroke-width="0.12">Oxaliplatin/GSK126</text>
<line x1="59.29" y1="417.90" x2="59.29" y2="420.20" stroke="#2a2a2a" stroke-width="0.7"/>
<line x1="59.29" y1="392.44" x2="59.29" y2="387.31" stroke="#333" stroke-width="0.85"/>
<line x1="57.59" y1="392.44" x2="60.99" y2="392.44" stroke="#222" stroke-width="0.75"/>
<line x1="57.59" y1="387.31" x2="60.99" y2="387.31" stroke="#222" stroke-width="0.75"/>
<line x1="55.69" y1="389.32" x2="62.89" y2="389.32" stroke="#222" stroke-width="0.8"/>
<text transform="translate(60.99,425.4) rotate(-45)" font-size="5.15" font-weight="bold" text-anchor="end" fill="#111" stroke="#111" stroke-width="0.12">EPZ6438</text>
<line x1="70.02" y1="417.90" x2="70.02" y2="420.20" stroke="#2a2a2a" stroke-width="0.7"/>
<line x1="70.02" y1="394.45" x2="70.02" y2="389.54" stroke="#333" stroke-width="0.85"/>
<line x1="68.32" y1="394.45" x2="71.72" y2="394.45" stroke="#222" stroke-width="0.75"/>
<line x1="68.32" y1="389.54" x2="71.72" y2="389.54" stroke="#222" stroke-width="0.75"/>
<line x1="66.42" y1="391.77" x2="73.62" y2="391.77" stroke="#222" stroke-width="0.8"/>
<text transform="translate(71.72,425.4) rotate(-45)" font-size="5.15" font-weight="bold" text-anchor="end" fill="#111" stroke="#111" stroke-width="0.12">Oxaliplatin/EPZ6438</text>
<line x1="80.75" y1="417.90" x2="80.75" y2="420.20" stroke="#2a2a2a" stroke-width="0.7"/>
<line x1="80.75" y1="399.37" x2="80.75" y2="395.35" stroke="#333" stroke-width="0.85"/>
<line x1="79.05" y1="399.37" x2="82.45" y2="399.37" stroke="#222" stroke-width="0.75"/>
<line x1="79.05" y1="395.35" x2="82.45" y2="395.35" stroke="#222" stroke-width="0.75"/>
<line x1="77.15" y1="396.69" x2="84.35" y2="396.69" stroke="#222" stroke-width="0.8"/>
<text transform="translate(82.45,425.4) rotate(-45)" font-size="5.15" font-weight="bold" text-anchor="end" fill="#111" stroke="#111" stroke-width="0.12">DZNep</text>
<line x1="91.48" y1="417.90" x2="91.48" y2="420.20" stroke="#2a2a2a" stroke-width="0.7"/>
<line x1="91.48" y1="398.70" x2="91.48" y2="394.68" stroke="#333" stroke-width="0.85"/>
<line x1="89.78" y1="398.70" x2="93.18" y2="398.70" stroke="#222" stroke-width="0.75"/>
<line x1="89.78" y1="394.68" x2="93.18" y2="394.68" stroke="#222" stroke-width="0.75"/>
<line x1="87.88" y1="396.46" x2="95.08" y2="396.46" stroke="#222" stroke-width="0.8"/>
<text transform="translate(93.18,425.4) rotate(-45)" font-size="5.15" font-weight="bold" text-anchor="end" fill="#111" stroke="#111" stroke-width="0.12">Oxaliplatin/DZNep</text>
<text transform="translate(9.90,383.6) rotate(-90)" font-size="5.9" text-anchor="middle" fill="#111" stroke="#111" stroke-width="0.1">Relative Expression</text>
<text x="37.83" y="370.08" font-size="7.2" font-weight="bold" text-anchor="middle" fill="#111" stroke="#111" stroke-width="0.14">*</text>
<text x="48.56" y="388.68" font-size="7.2" font-weight="bold" text-anchor="middle" fill="#111" stroke="#111" stroke-width="0.14">*</text>
<text x="59.29" y="385.98" font-size="7.2" font-weight="bold" text-anchor="middle" fill="#111" stroke="#111" stroke-width="0.14">*</text>
<text x="156.80" y="315.80" font-size="6.3" font-weight="bold" text-anchor="middle" fill="#1a1a1a" stroke="#1a1a1a" stroke-width="0.14">SREBF2</text>
<line x1="116.80" y1="395.57" x2="196.80" y2="395.57" stroke="#9a9a9a" stroke-width="0.6" stroke-dasharray="0.75,0.85"/>
<line x1="116.80" y1="350.91" x2="116.80" y2="417.90" stroke="#2a2a2a" stroke-width="1.0"/>
<line x1="116.30" y1="417.90" x2="196.80" y2="417.90" stroke="#2a2a2a" stroke-width="1.0"/>
<line x1="114.50" y1="417.90" x2="116.80" y2="417.90" stroke="#2a2a2a" stroke-width="0.7"/>
<text x="113.50" y="419.65" font-size="4.9" font-weight="bold" text-anchor="end" fill="#222" stroke="#222" stroke-width="0.14">0</text>
<line x1="114.50" y1="395.57" x2="116.80" y2="395.57" stroke="#2a2a2a" stroke-width="0.7"/>
<text x="113.50" y="397.32" font-size="4.9" font-weight="bold" text-anchor="end" fill="#222" stroke="#222" stroke-width="0.14">1</text>
<line x1="114.50" y1="373.24" x2="116.80" y2="373.24" stroke="#2a2a2a" stroke-width="0.7"/>
<text x="113.50" y="374.99" font-size="4.9" font-weight="bold" text-anchor="end" fill="#222" stroke="#222" stroke-width="0.14">2</text>
<line x1="114.50" y1="350.91" x2="116.80" y2="350.91" stroke="#2a2a2a" stroke-width="0.7"/>
<text x="113.50" y="352.66" font-size="4.9" font-weight="bold" text-anchor="end" fill="#222" stroke="#222" stroke-width="0.14">3</text>
<line x1="124.50" y1="417.90" x2="124.50" y2="420.20" stroke="#2a2a2a" stroke-width="0.7"/>
<line x1="124.50" y1="396.69" x2="124.50" y2="389.09" stroke="#333" stroke-width="0.85"/>
<line x1="122.80" y1="396.69" x2="126.20" y2="396.69" stroke="#222" stroke-width="0.75"/>
<line x1="122.80" y1="389.09" x2="126.20" y2="389.09" stroke="#222" stroke-width="0.75"/>
<line x1="120.90" y1="393.11" x2="128.10" y2="393.11" stroke="#222" stroke-width="0.8"/>
<text transform="translate(126.20,425.4) rotate(-45)" font-size="5.15" font-weight="bold" text-anchor="end" fill="#111" stroke="#111" stroke-width="0.12">Oxaliplatin</text>
<line x1="135.28" y1="417.90" x2="135.28" y2="420.20" stroke="#2a2a2a" stroke-width="0.7"/>
<line x1="135.28" y1="389.32" x2="135.28" y2="374.36" stroke="#333" stroke-width="0.85"/>
<line x1="133.58" y1="389.32" x2="136.98" y2="389.32" stroke="#222" stroke-width="0.75"/>
<line x1="133.58" y1="374.36" x2="136.98" y2="374.36" stroke="#222" stroke-width="0.75"/>
<line x1="131.68" y1="381.73" x2="138.88" y2="381.73" stroke="#222" stroke-width="0.8"/>
<text transform="translate(136.98,425.4) rotate(-45)" font-size="5.15" font-weight="bold" text-anchor="end" fill="#111" stroke="#111" stroke-width="0.12">GSK126</text>
<line x1="146.06" y1="417.90" x2="146.06" y2="420.20" stroke="#2a2a2a" stroke-width="0.7"/>
<line x1="146.06" y1="393.34" x2="146.06" y2="389.32" stroke="#333" stroke-width="0.85"/>
<line x1="144.36" y1="393.34" x2="147.76" y2="393.34" stroke="#222" stroke-width="0.75"/>
<line x1="144.36" y1="389.32" x2="147.76" y2="389.32" stroke="#222" stroke-width="0.75"/>
<line x1="142.46" y1="391.10" x2="149.66" y2="391.10" stroke="#222" stroke-width="0.8"/>
<text transform="translate(147.76,425.4) rotate(-45)" font-size="5.15" font-weight="bold" text-anchor="end" fill="#111" stroke="#111" stroke-width="0.12">Oxaliplatin/GSK126</text>
<line x1="156.84" y1="417.90" x2="156.84" y2="420.20" stroke="#2a2a2a" stroke-width="0.7"/>
<line x1="156.84" y1="392.22" x2="156.84" y2="387.08" stroke="#333" stroke-width="0.85"/>
<line x1="155.14" y1="392.22" x2="158.54" y2="392.22" stroke="#222" stroke-width="0.75"/>
<line x1="155.14" y1="387.08" x2="158.54" y2="387.08" stroke="#222" stroke-width="0.75"/>
<line x1="153.24" y1="389.99" x2="160.44" y2="389.99" stroke="#222" stroke-width="0.8"/>
<text transform="translate(158.54,425.4) rotate(-45)" font-size="5.15" font-weight="bold" text-anchor="end" fill="#111" stroke="#111" stroke-width="0.12">EPZ6438</text>
<line x1="167.62" y1="417.90" x2="167.62" y2="420.20" stroke="#2a2a2a" stroke-width="0.7"/>
<line x1="167.62" y1="392.22" x2="167.62" y2="386.64" stroke="#333" stroke-width="0.85"/>
<line x1="165.92" y1="392.22" x2="169.32" y2="392.22" stroke="#222" stroke-width="0.75"/>
<line x1="165.92" y1="386.64" x2="169.32" y2="386.64" stroke="#222" stroke-width="0.75"/>
<line x1="164.02" y1="389.54" x2="171.22" y2="389.54" stroke="#222" stroke-width="0.8"/>
<text transform="translate(169.32,425.4) rotate(-45)" font-size="5.15" font-weight="bold" text-anchor="end" fill="#111" stroke="#111" stroke-width="0.12">Oxaliplatin/EPZ6438</text>
<line x1="178.40" y1="417.90" x2="178.40" y2="420.20" stroke="#2a2a2a" stroke-width="0.7"/>
<line x1="178.40" y1="397.13" x2="178.40" y2="393.78" stroke="#333" stroke-width="0.85"/>
<line x1="176.70" y1="397.13" x2="180.10" y2="397.13" stroke="#222" stroke-width="0.75"/>
<line x1="176.70" y1="393.78" x2="180.10" y2="393.78" stroke="#222" stroke-width="0.75"/>
<line x1="174.80" y1="395.57" x2="182.00" y2="395.57" stroke="#222" stroke-width="0.8"/>
<text transform="translate(180.10,425.4) rotate(-45)" font-size="5.15" font-weight="bold" text-anchor="end" fill="#111" stroke="#111" stroke-width="0.12">DZNep</text>
<line x1="189.18" y1="417.90" x2="189.18" y2="420.20" stroke="#2a2a2a" stroke-width="0.7"/>
<line x1="189.18" y1="395.12" x2="189.18" y2="392.89" stroke="#333" stroke-width="0.85"/>
<line x1="187.48" y1="395.12" x2="190.88" y2="395.12" stroke="#222" stroke-width="0.75"/>
<line x1="187.48" y1="392.89" x2="190.88" y2="392.89" stroke="#222" stroke-width="0.75"/>
<line x1="185.58" y1="394.01" x2="192.78" y2="394.01" stroke="#222" stroke-width="0.8"/>
<text transform="translate(190.88,425.4) rotate(-45)" font-size="5.15" font-weight="bold" text-anchor="end" fill="#111" stroke="#111" stroke-width="0.12">Oxaliplatin/DZNep</text>
<text transform="translate(107.30,383.6) rotate(-90)" font-size="5.9" text-anchor="middle" fill="#111" stroke="#111" stroke-width="0.1">Relative Expression</text>
<text x="135.40" y="370.80" font-size="4.5" font-weight="bold" text-anchor="middle" fill="#222" stroke="#222" stroke-width="0.14"><tspan font-style="italic">p</tspan> = 0.06</text>
<text x="146.00" y="385.60" font-size="4.5" font-weight="bold" text-anchor="middle" fill="#222" stroke="#222" stroke-width="0.14"><tspan font-style="italic">p</tspan> = 0.07</text>
<text x="157.50" y="385.48" font-size="7.2" font-weight="bold" text-anchor="middle" fill="#111" stroke="#111" stroke-width="0.14">*</text>
<text x="167.60" y="382.70" font-size="4.5" font-weight="bold" text-anchor="middle" fill="#222" stroke="#222" stroke-width="0.14"><tspan font-style="italic">p</tspan> = 0.06</text>
<text x="252.60" y="315.80" font-size="6.3" font-weight="bold" text-anchor="middle" fill="#1a1a1a" stroke="#1a1a1a" stroke-width="0.14">ABCG1</text>
<line x1="214.80" y1="395.57" x2="294.80" y2="395.57" stroke="#9a9a9a" stroke-width="0.6" stroke-dasharray="0.75,0.85"/>
<line x1="214.80" y1="350.91" x2="214.80" y2="417.90" stroke="#2a2a2a" stroke-width="1.0"/>
<line x1="214.30" y1="417.90" x2="294.80" y2="417.90" stroke="#2a2a2a" stroke-width="1.0"/>
<line x1="212.50" y1="417.90" x2="214.80" y2="417.90" stroke="#2a2a2a" stroke-width="0.7"/>
<text x="211.50" y="419.65" font-size="4.9" font-weight="bold" text-anchor="end" fill="#222" stroke="#222" stroke-width="0.14">0</text>
<line x1="212.50" y1="395.57" x2="214.80" y2="395.57" stroke="#2a2a2a" stroke-width="0.7"/>
<text x="211.50" y="397.32" font-size="4.9" font-weight="bold" text-anchor="end" fill="#222" stroke="#222" stroke-width="0.14">1</text>
<line x1="212.50" y1="373.24" x2="214.80" y2="373.24" stroke="#2a2a2a" stroke-width="0.7"/>
<text x="211.50" y="374.99" font-size="4.9" font-weight="bold" text-anchor="end" fill="#222" stroke="#222" stroke-width="0.14">2</text>
<line x1="212.50" y1="350.91" x2="214.80" y2="350.91" stroke="#2a2a2a" stroke-width="0.7"/>
<text x="211.50" y="352.66" font-size="4.9" font-weight="bold" text-anchor="end" fill="#222" stroke="#222" stroke-width="0.14">3</text>
<line x1="222.30" y1="417.90" x2="222.30" y2="420.20" stroke="#2a2a2a" stroke-width="0.7"/>
<line x1="222.30" y1="392.67" x2="222.30" y2="377.71" stroke="#333" stroke-width="0.85"/>
<line x1="220.60" y1="392.67" x2="224.00" y2="392.67" stroke="#222" stroke-width="0.75"/>
<line x1="220.60" y1="377.71" x2="224.00" y2="377.71" stroke="#222" stroke-width="0.75"/>
<line x1="218.70" y1="385.52" x2="225.90" y2="385.52" stroke="#222" stroke-width="0.8"/>
<text transform="translate(224.00,425.4) rotate(-45)" font-size="5.15" font-weight="bold" text-anchor="end" fill="#111" stroke="#111" stroke-width="0.12">Oxaliplatin</text>
<line x1="233.08" y1="417.90" x2="233.08" y2="420.20" stroke="#2a2a2a" stroke-width="0.7"/>
<line x1="233.08" y1="381.73" x2="233.08" y2="356.49" stroke="#333" stroke-width="0.85"/>
<line x1="231.38" y1="381.73" x2="234.78" y2="381.73" stroke="#222" stroke-width="0.75"/>
<line x1="231.38" y1="356.49" x2="234.78" y2="356.49" stroke="#222" stroke-width="0.75"/>
<line x1="229.48" y1="368.77" x2="236.68" y2="368.77" stroke="#222" stroke-width="0.8"/>
<text transform="translate(234.78,425.4) rotate(-45)" font-size="5.15" font-weight="bold" text-anchor="end" fill="#111" stroke="#111" stroke-width="0.12">GSK126</text>
<line x1="243.86" y1="417.90" x2="243.86" y2="420.20" stroke="#2a2a2a" stroke-width="0.7"/>
<line x1="243.86" y1="386.64" x2="243.86" y2="376.59" stroke="#333" stroke-width="0.85"/>
<line x1="242.16" y1="386.64" x2="245.56" y2="386.64" stroke="#222" stroke-width="0.75"/>
<line x1="242.16" y1="376.59" x2="245.56" y2="376.59" stroke="#222" stroke-width="0.75"/>
<line x1="240.26" y1="382.17" x2="247.46" y2="382.17" stroke="#222" stroke-width="0.8"/>
<text transform="translate(245.56,425.4) rotate(-45)" font-size="5.15" font-weight="bold" text-anchor="end" fill="#111" stroke="#111" stroke-width="0.12">Oxaliplatin/GSK126</text>
<line x1="254.64" y1="417.90" x2="254.64" y2="420.20" stroke="#2a2a2a" stroke-width="0.7"/>
<line x1="254.64" y1="386.19" x2="254.64" y2="382.17" stroke="#333" stroke-width="0.85"/>
<line x1="252.94" y1="386.19" x2="256.34" y2="386.19" stroke="#222" stroke-width="0.75"/>
<line x1="252.94" y1="382.17" x2="256.34" y2="382.17" stroke="#222" stroke-width="0.75"/>
<line x1="251.04" y1="384.40" x2="258.24" y2="384.40" stroke="#222" stroke-width="0.8"/>
<text transform="translate(256.34,425.4) rotate(-45)" font-size="5.15" font-weight="bold" text-anchor="end" fill="#111" stroke="#111" stroke-width="0.12">EPZ6438</text>
<line x1="265.42" y1="417.90" x2="265.42" y2="420.20" stroke="#2a2a2a" stroke-width="0.7"/>
<line x1="265.42" y1="387.75" x2="265.42" y2="382.17" stroke="#333" stroke-width="0.85"/>
<line x1="263.72" y1="387.75" x2="267.12" y2="387.75" stroke="#222" stroke-width="0.75"/>
<line x1="263.72" y1="382.17" x2="267.12" y2="382.17" stroke="#222" stroke-width="0.75"/>
<line x1="261.82" y1="384.85" x2="269.02" y2="384.85" stroke="#222" stroke-width="0.8"/>
<text transform="translate(267.12,425.4) rotate(-45)" font-size="5.15" font-weight="bold" text-anchor="end" fill="#111" stroke="#111" stroke-width="0.12">Oxaliplatin/EPZ6438</text>
<line x1="276.20" y1="417.90" x2="276.20" y2="420.20" stroke="#2a2a2a" stroke-width="0.7"/>
<line x1="276.20" y1="397.80" x2="276.20" y2="389.32" stroke="#333" stroke-width="0.85"/>
<line x1="274.50" y1="397.80" x2="277.90" y2="397.80" stroke="#222" stroke-width="0.75"/>
<line x1="274.50" y1="389.32" x2="277.90" y2="389.32" stroke="#222" stroke-width="0.75"/>
<line x1="272.60" y1="393.78" x2="279.80" y2="393.78" stroke="#222" stroke-width="0.8"/>
<text transform="translate(277.90,425.4) rotate(-45)" font-size="5.15" font-weight="bold" text-anchor="end" fill="#111" stroke="#111" stroke-width="0.12">DZNep</text>
<line x1="286.98" y1="417.90" x2="286.98" y2="420.20" stroke="#2a2a2a" stroke-width="0.7"/>
<line x1="286.98" y1="395.57" x2="286.98" y2="387.75" stroke="#333" stroke-width="0.85"/>
<line x1="285.28" y1="395.57" x2="288.68" y2="395.57" stroke="#222" stroke-width="0.75"/>
<line x1="285.28" y1="387.75" x2="288.68" y2="387.75" stroke="#222" stroke-width="0.75"/>
<line x1="283.38" y1="392.22" x2="290.58" y2="392.22" stroke="#222" stroke-width="0.8"/>
<text transform="translate(288.68,425.4) rotate(-45)" font-size="5.15" font-weight="bold" text-anchor="end" fill="#111" stroke="#111" stroke-width="0.12">Oxaliplatin/DZNep</text>
<text transform="translate(205.30,383.6) rotate(-90)" font-size="5.9" text-anchor="middle" fill="#111" stroke="#111" stroke-width="0.1">Relative Expression</text>
<text x="233.08" y="354.48" font-size="7.2" font-weight="bold" text-anchor="middle" fill="#111" stroke="#111" stroke-width="0.14">*</text>
<text x="243.86" y="375.38" font-size="7.2" font-weight="bold" text-anchor="middle" fill="#111" stroke="#111" stroke-width="0.14">*</text>
<text x="254.94" y="378.58" font-size="7.2" font-weight="bold" text-anchor="middle" fill="#111" stroke="#111" stroke-width="0.14" letter-spacing="0.6">**</text>
<text x="265.42" y="377.78" font-size="7.2" font-weight="bold" text-anchor="middle" fill="#111" stroke="#111" stroke-width="0.14">*</text>
<text x="352.10" y="315.80" font-size="6.3" font-weight="bold" text-anchor="middle" fill="#1a1a1a" stroke="#1a1a1a" stroke-width="0.14">ABCG2</text>
<line x1="312.60" y1="406.75" x2="392.60" y2="406.75" stroke="#9a9a9a" stroke-width="0.6" stroke-dasharray="0.75,0.85"/>
<line x1="312.60" y1="351.00" x2="312.60" y2="417.90" stroke="#2a2a2a" stroke-width="1.0"/>
<line x1="312.10" y1="417.90" x2="392.60" y2="417.90" stroke="#2a2a2a" stroke-width="1.0"/>
<line x1="310.30" y1="417.90" x2="312.60" y2="417.90" stroke="#2a2a2a" stroke-width="0.7"/>
<text x="309.30" y="419.65" font-size="4.9" font-weight="bold" text-anchor="end" fill="#222" stroke="#222" stroke-width="0.14">0</text>
<line x1="310.30" y1="395.60" x2="312.60" y2="395.60" stroke="#2a2a2a" stroke-width="0.7"/>
<text x="309.30" y="397.35" font-size="4.9" font-weight="bold" text-anchor="end" fill="#222" stroke="#222" stroke-width="0.14">2</text>
<line x1="310.30" y1="373.30" x2="312.60" y2="373.30" stroke="#2a2a2a" stroke-width="0.7"/>
<text x="309.30" y="375.05" font-size="4.9" font-weight="bold" text-anchor="end" fill="#222" stroke="#222" stroke-width="0.14">4</text>
<line x1="310.30" y1="351.00" x2="312.60" y2="351.00" stroke="#2a2a2a" stroke-width="0.7"/>
<text x="309.30" y="352.75" font-size="4.9" font-weight="bold" text-anchor="end" fill="#222" stroke="#222" stroke-width="0.14">6</text>
<line x1="319.90" y1="417.90" x2="319.90" y2="420.20" stroke="#2a2a2a" stroke-width="0.7"/>
<line x1="319.90" y1="402.74" x2="319.90" y2="395.71" stroke="#333" stroke-width="0.85"/>
<line x1="318.20" y1="402.74" x2="321.60" y2="402.74" stroke="#222" stroke-width="0.75"/>
<line x1="318.20" y1="395.71" x2="321.60" y2="395.71" stroke="#222" stroke-width="0.75"/>
<line x1="316.30" y1="399.17" x2="323.50" y2="399.17" stroke="#222" stroke-width="0.8"/>
<text transform="translate(321.60,425.4) rotate(-45)" font-size="5.15" font-weight="bold" text-anchor="end" fill="#111" stroke="#111" stroke-width="0.12">Oxaliplatin</text>
<line x1="330.65" y1="417.90" x2="330.65" y2="420.20" stroke="#2a2a2a" stroke-width="0.7"/>
<line x1="330.65" y1="382.22" x2="330.65" y2="366.61" stroke="#333" stroke-width="0.85"/>
<line x1="328.95" y1="382.22" x2="332.35" y2="382.22" stroke="#222" stroke-width="0.75"/>
<line x1="328.95" y1="366.61" x2="332.35" y2="366.61" stroke="#222" stroke-width="0.75"/>
<line x1="327.05" y1="374.41" x2="334.25" y2="374.41" stroke="#222" stroke-width="0.8"/>
<text transform="translate(332.35,425.4) rotate(-45)" font-size="5.15" font-weight="bold" text-anchor="end" fill="#111" stroke="#111" stroke-width="0.12">GSK126</text>
<line x1="341.40" y1="417.90" x2="341.40" y2="420.20" stroke="#2a2a2a" stroke-width="0.7"/>
<line x1="341.40" y1="389.47" x2="341.40" y2="371.07" stroke="#333" stroke-width="0.85"/>
<line x1="339.70" y1="389.47" x2="343.10" y2="389.47" stroke="#222" stroke-width="0.75"/>
<line x1="339.70" y1="371.07" x2="343.10" y2="371.07" stroke="#222" stroke-width="0.75"/>
<line x1="337.80" y1="380.55" x2="345.00" y2="380.55" stroke="#222" stroke-width="0.8"/>
<text transform="translate(343.10,425.4) rotate(-45)" font-size="5.15" font-weight="bold" text-anchor="end" fill="#111" stroke="#111" stroke-width="0.12">Oxaliplatin/GSK126</text>
<line x1="352.15" y1="417.90" x2="352.15" y2="420.20" stroke="#2a2a2a" stroke-width="0.7"/>
<line x1="352.15" y1="390.58" x2="352.15" y2="373.30" stroke="#333" stroke-width="0.85"/>
<line x1="350.45" y1="390.58" x2="353.85" y2="390.58" stroke="#222" stroke-width="0.75"/>
<line x1="350.45" y1="373.30" x2="353.85" y2="373.30" stroke="#222" stroke-width="0.75"/>
<line x1="348.55" y1="382.22" x2="355.75" y2="382.22" stroke="#222" stroke-width="0.8"/>
<text transform="translate(353.85,425.4) rotate(-45)" font-size="5.15" font-weight="bold" text-anchor="end" fill="#111" stroke="#111" stroke-width="0.12">EPZ6438</text>
<line x1="362.90" y1="417.90" x2="362.90" y2="420.20" stroke="#2a2a2a" stroke-width="0.7"/>
<line x1="362.90" y1="380.55" x2="362.90" y2="362.15" stroke="#333" stroke-width="0.85"/>
<line x1="361.20" y1="380.55" x2="364.60" y2="380.55" stroke="#222" stroke-width="0.75"/>
<line x1="361.20" y1="362.15" x2="364.60" y2="362.15" stroke="#222" stroke-width="0.75"/>
<line x1="359.30" y1="371.07" x2="366.50" y2="371.07" stroke="#222" stroke-width="0.8"/>
<text transform="translate(364.60,425.4) rotate(-45)" font-size="5.15" font-weight="bold" text-anchor="end" fill="#111" stroke="#111" stroke-width="0.12">Oxaliplatin/EPZ6438</text>
<line x1="373.65" y1="417.90" x2="373.65" y2="420.20" stroke="#2a2a2a" stroke-width="0.7"/>
<line x1="373.65" y1="408.76" x2="373.65" y2="406.97" stroke="#333" stroke-width="0.85"/>
<line x1="371.95" y1="408.76" x2="375.35" y2="408.76" stroke="#222" stroke-width="0.75"/>
<line x1="371.95" y1="406.97" x2="375.35" y2="406.97" stroke="#222" stroke-width="0.75"/>
<line x1="370.05" y1="407.86" x2="377.25" y2="407.86" stroke="#222" stroke-width="0.8"/>
<text transform="translate(375.35,425.4) rotate(-45)" font-size="5.15" font-weight="bold" text-anchor="end" fill="#111" stroke="#111" stroke-width="0.12">DZNep</text>
<line x1="384.40" y1="417.90" x2="384.40" y2="420.20" stroke="#2a2a2a" stroke-width="0.7"/>
<line x1="384.40" y1="407.53" x2="384.40" y2="405.30" stroke="#333" stroke-width="0.85"/>
<line x1="382.70" y1="407.53" x2="386.10" y2="407.53" stroke="#222" stroke-width="0.75"/>
<line x1="382.70" y1="405.30" x2="386.10" y2="405.30" stroke="#222" stroke-width="0.75"/>
<line x1="380.80" y1="406.42" x2="388.00" y2="406.42" stroke="#222" stroke-width="0.8"/>
<text transform="translate(386.10,425.4) rotate(-45)" font-size="5.15" font-weight="bold" text-anchor="end" fill="#111" stroke="#111" stroke-width="0.12">Oxaliplatin/DZNep</text>
<text transform="translate(303.10,383.6) rotate(-90)" font-size="5.9" text-anchor="middle" fill="#111" stroke="#111" stroke-width="0.1">Relative Expression</text>
<text x="319.90" y="394.78" font-size="7.2" font-weight="bold" text-anchor="middle" fill="#111" stroke="#111" stroke-width="0.14">*</text>
<text x="330.95" y="366.38" font-size="7.2" font-weight="bold" text-anchor="middle" fill="#111" stroke="#111" stroke-width="0.14" letter-spacing="0.6">***</text>
<text x="341.40" y="370.78" font-size="7.2" font-weight="bold" text-anchor="middle" fill="#111" stroke="#111" stroke-width="0.14">*</text>
<text x="352.15" y="372.38" font-size="7.2" font-weight="bold" text-anchor="middle" fill="#111" stroke="#111" stroke-width="0.14">*</text>
<text x="363.20" y="361.38" font-size="7.2" font-weight="bold" text-anchor="middle" fill="#111" stroke="#111" stroke-width="0.14" letter-spacing="0.6">**</text>
<polyline points="320.4,322.20 320.4,319.40 330.60,319.40 330.60,322.20" fill="none" stroke="#1a1a1a" stroke-width="0.7"/>
<text x="325.80" y="319.98" font-size="7.2" font-weight="bold" text-anchor="middle" fill="#111" stroke="#111" stroke-width="0.14" letter-spacing="0.6">***</text>
<polyline points="320.4,332.00 320.4,329.20 341.60,329.20 341.60,332.00" fill="none" stroke="#1a1a1a" stroke-width="0.7"/>
<text x="331.30" y="330.18" font-size="7.2" font-weight="bold" text-anchor="middle" fill="#111" stroke="#111" stroke-width="0.14" letter-spacing="0.6">***</text>
<polyline points="320.4,342.20 320.4,339.40 353.50,339.40 353.50,342.20" fill="none" stroke="#1a1a1a" stroke-width="0.7"/>
<text x="336.95" y="337.80" font-size="4.4" text-anchor="middle" fill="#333" stroke="#333" stroke-width="0.06"><tspan font-style="italic">p</tspan> = 0.07</text>
<polyline points="320.4,352.80 320.4,350.00 363.40,350.00 363.40,352.80" fill="none" stroke="#1a1a1a" stroke-width="0.7"/>
<text x="341.90" y="350.98" font-size="7.2" font-weight="bold" text-anchor="middle" fill="#111" stroke="#111" stroke-width="0.14">*</text>
<text x="393.20" y="316.30" font-size="7" font-weight="bold" fill="#1a1a1a" stroke="#1a1a1a" stroke-width="0.14">E</text>
<text x="448.60" y="316.60" font-size="6.4" font-weight="bold" text-anchor="middle" fill="#1a1a1a" stroke="#1a1a1a" stroke-width="0.14">EZH2 Knockdown</text>
<line x1="414.20" y1="351.20" x2="414.20" y2="417.60" stroke="#222" stroke-width="0.75"/>
<line x1="414.20" y1="417.60" x2="481.80" y2="417.60" stroke="#222" stroke-width="0.75"/>
<line x1="412.00" y1="351.20" x2="414.20" y2="351.20" stroke="#222" stroke-width="0.6"/>
<text x="411.40" y="352.90" font-size="4.8" font-weight="bold" text-anchor="end" fill="#333" stroke="#333" stroke-width="0.14">10</text>
<line x1="412.00" y1="384.40" x2="414.20" y2="384.40" stroke="#222" stroke-width="0.6"/>
<text x="411.40" y="386.10" font-size="4.8" font-weight="bold" text-anchor="end" fill="#333" stroke="#333" stroke-width="0.14">1</text>
<line x1="412.00" y1="417.60" x2="414.20" y2="417.60" stroke="#222" stroke-width="0.6"/>
<text x="411.40" y="419.30" font-size="4.8" font-weight="bold" text-anchor="end" fill="#333" stroke="#333" stroke-width="0.14">0.1</text>
<line x1="413.00" y1="407.61" x2="414.20" y2="407.61" stroke="#222" stroke-width="0.45"/>
<line x1="413.00" y1="401.76" x2="414.20" y2="401.76" stroke="#222" stroke-width="0.45"/>
<line x1="413.00" y1="397.61" x2="414.20" y2="397.61" stroke="#222" stroke-width="0.45"/>
<line x1="413.00" y1="394.39" x2="414.20" y2="394.39" stroke="#222" stroke-width="0.45"/>
<line x1="413.00" y1="391.77" x2="414.20" y2="391.77" stroke="#222" stroke-width="0.45"/>
<line x1="413.00" y1="389.54" x2="414.20" y2="389.54" stroke="#222" stroke-width="0.45"/>
<line x1="413.00" y1="387.62" x2="414.20" y2="387.62" stroke="#222" stroke-width="0.45"/>
<line x1="413.00" y1="385.92" x2="414.20" y2="385.92" stroke="#222" stroke-width="0.45"/>
<line x1="413.00" y1="374.41" x2="414.20" y2="374.41" stroke="#222" stroke-width="0.45"/>
<line x1="413.00" y1="368.56" x2="414.20" y2="368.56" stroke="#222" stroke-width="0.45"/>
<line x1="413.00" y1="364.41" x2="414.20" y2="364.41" stroke="#222" stroke-width="0.45"/>
<line x1="413.00" y1="361.19" x2="414.20" y2="361.19" stroke="#222" stroke-width="0.45"/>
<line x1="413.00" y1="358.57" x2="414.20" y2="358.57" stroke="#222" stroke-width="0.45"/>
<line x1="413.00" y1="356.34" x2="414.20" y2="356.34" stroke="#222" stroke-width="0.45"/>
<line x1="413.00" y1="354.42" x2="414.20" y2="354.42" stroke="#222" stroke-width="0.45"/>
<line x1="413.00" y1="352.72" x2="414.20" y2="352.72" stroke="#222" stroke-width="0.45"/>
<text transform="translate(400.6,384.0) rotate(-90)" font-size="5.9" text-anchor="middle" fill="#111" stroke="#111" stroke-width="0.1">Relative Expression</text>
<rect x="415.95" y="381.60" width="2.10" height="2.80" fill="#b8b8b8"/>
<line x1="417.00" y1="381.60" x2="417.00" y2="381.20" stroke="#666" stroke-width="0.45"/>
<line x1="416.20" y1="381.20" x2="417.80" y2="381.20" stroke="#666" stroke-width="0.45"/>
<rect x="419.75" y="384.40" width="2.10" height="4.20" fill="#1f4e7a" stroke="#444" stroke-width="0.3"/>
<line x1="420.80" y1="388.60" x2="420.80" y2="389.60" stroke="#666" stroke-width="0.45"/>
<line x1="420.00" y1="389.60" x2="421.60" y2="389.60" stroke="#666" stroke-width="0.45"/>
<rect x="423.15" y="384.40" width="2.10" height="2.40" fill="#f0a384" stroke="#444" stroke-width="0.3"/>
<line x1="424.20" y1="386.80" x2="424.20" y2="389.60" stroke="#666" stroke-width="0.45"/>
<line x1="423.40" y1="389.60" x2="425.00" y2="389.60" stroke="#666" stroke-width="0.45"/>
<rect x="426.75" y="382.20" width="2.10" height="2.20" fill="#b8b8b8"/>
<line x1="427.80" y1="382.20" x2="427.80" y2="381.40" stroke="#666" stroke-width="0.45"/>
<line x1="427.00" y1="381.40" x2="428.60" y2="381.40" stroke="#666" stroke-width="0.45"/>
<rect x="432.75" y="380.80" width="2.10" height="3.60" fill="#b8b8b8"/>
<line x1="433.80" y1="380.80" x2="433.80" y2="380.20" stroke="#666" stroke-width="0.45"/>
<line x1="433.00" y1="380.20" x2="434.60" y2="380.20" stroke="#666" stroke-width="0.45"/>
<rect x="436.35" y="384.40" width="2.10" height="2.00" fill="#1f4e7a" stroke="#444" stroke-width="0.3"/>
<line x1="437.40" y1="386.40" x2="437.40" y2="387.40" stroke="#666" stroke-width="0.45"/>
<line x1="436.60" y1="387.40" x2="438.20" y2="387.40" stroke="#666" stroke-width="0.45"/>
<rect x="440.15" y="384.40" width="2.10" height="1.60" fill="#f0a384" stroke="#444" stroke-width="0.3"/>
<line x1="441.20" y1="386.00" x2="441.20" y2="387.60" stroke="#666" stroke-width="0.45"/>
<line x1="440.40" y1="387.60" x2="442.00" y2="387.60" stroke="#666" stroke-width="0.45"/>
<rect x="443.95" y="381.60" width="2.10" height="2.80" fill="#a8d5ee" stroke="#444" stroke-width="0.3"/>
<line x1="445.00" y1="381.60" x2="445.00" y2="380.60" stroke="#666" stroke-width="0.45"/>
<line x1="444.20" y1="380.60" x2="445.80" y2="380.60" stroke="#666" stroke-width="0.45"/>
<rect x="449.95" y="382.20" width="2.10" height="2.20" fill="#b31b1b" stroke="#444" stroke-width="0.3"/>
<line x1="451.00" y1="382.20" x2="451.00" y2="380.00" stroke="#666" stroke-width="0.45"/>
<line x1="450.20" y1="380.00" x2="451.80" y2="380.00" stroke="#666" stroke-width="0.45"/>
<rect x="453.45" y="384.40" width="2.10" height="2.00" fill="#1f4e7a" stroke="#444" stroke-width="0.3"/>
<line x1="454.50" y1="386.40" x2="454.50" y2="387.60" stroke="#666" stroke-width="0.45"/>
<line x1="453.70" y1="387.60" x2="455.30" y2="387.60" stroke="#666" stroke-width="0.45"/>
<rect x="457.25" y="381.60" width="2.10" height="2.80" fill="#b8b8b8"/>
<line x1="458.30" y1="381.60" x2="458.30" y2="380.60" stroke="#666" stroke-width="0.45"/>
<line x1="457.50" y1="380.60" x2="459.10" y2="380.60" stroke="#666" stroke-width="0.45"/>
<rect x="460.95" y="384.40" width="2.10" height="2.20" fill="#888" stroke="#444" stroke-width="0.3"/>
<line x1="462.00" y1="386.60" x2="462.00" y2="389.20" stroke="#666" stroke-width="0.45"/>
<line x1="461.20" y1="389.20" x2="462.80" y2="389.20" stroke="#666" stroke-width="0.45"/>
<rect x="467.05" y="379.40" width="2.10" height="5.00" fill="#b31b1b" stroke="#444" stroke-width="0.3"/>
<line x1="468.10" y1="379.40" x2="468.10" y2="377.80" stroke="#666" stroke-width="0.45"/>
<line x1="467.30" y1="377.80" x2="468.90" y2="377.80" stroke="#666" stroke-width="0.45"/>
<rect x="470.65" y="365.80" width="2.10" height="18.60" fill="#1f4e7a" stroke="#444" stroke-width="0.3"/>
<line x1="471.70" y1="365.80" x2="471.70" y2="365.20" stroke="#666" stroke-width="0.45"/>
<line x1="470.90" y1="365.20" x2="472.50" y2="365.20" stroke="#666" stroke-width="0.45"/>
<rect x="474.45" y="384.40" width="2.10" height="1.20" fill="#f0a384" stroke="#444" stroke-width="0.3"/>
<line x1="475.50" y1="385.60" x2="475.50" y2="388.20" stroke="#666" stroke-width="0.45"/>
<line x1="474.70" y1="388.20" x2="476.30" y2="388.20" stroke="#666" stroke-width="0.45"/>
<rect x="478.25" y="382.80" width="2.10" height="1.60" fill="#a8d5ee" stroke="#444" stroke-width="0.3"/>
<line x1="479.30" y1="382.80" x2="479.30" y2="382.00" stroke="#666" stroke-width="0.45"/>
<line x1="478.50" y1="382.00" x2="480.10" y2="382.00" stroke="#666" stroke-width="0.45"/>
<line x1="422.50" y1="417.60" x2="422.50" y2="419.60" stroke="#222" stroke-width="0.6"/>
<line x1="439.40" y1="417.60" x2="439.40" y2="419.60" stroke="#222" stroke-width="0.6"/>
<line x1="456.40" y1="417.60" x2="456.40" y2="419.60" stroke="#222" stroke-width="0.6"/>
<line x1="473.60" y1="417.60" x2="473.60" y2="419.60" stroke="#222" stroke-width="0.6"/>
<line x1="414.20" y1="384.40" x2="481.80" y2="384.40" stroke="#1a1a1a" stroke-width="0.6"/>
<text x="420.30" y="400.18" font-size="7.2" font-weight="bold" text-anchor="middle" fill="#111" stroke="#111" stroke-width="0.14">*</text>
<text x="454.40" y="397.08" font-size="7.2" font-weight="bold" text-anchor="middle" fill="#111" stroke="#111" stroke-width="0.14">*</text>
<text x="471.80" y="364.58" font-size="7.2" font-weight="bold" text-anchor="middle" fill="#111" stroke="#111" stroke-width="0.14" letter-spacing="0.6">***</text>
<text transform="translate(424.20,425.2) rotate(-45)" font-size="5.15" font-weight="bold" text-anchor="end" fill="#111" stroke="#111" stroke-width="0.12">SREBF1</text>
<text transform="translate(441.10,425.2) rotate(-45)" font-size="5.15" font-weight="bold" text-anchor="end" fill="#111" stroke="#111" stroke-width="0.12">SREBF2</text>
<text transform="translate(458.10,425.2) rotate(-45)" font-size="5.15" font-weight="bold" text-anchor="end" fill="#111" stroke="#111" stroke-width="0.12">ABCG1</text>
<text transform="translate(475.30,425.2) rotate(-45)" font-size="5.15" font-weight="bold" text-anchor="end" fill="#111" stroke="#111" stroke-width="0.12">ABCG2</text>
<rect x="484.30" y="353.70" width="7.40" height="2.80" fill="#b31b1b" stroke="#333" stroke-width="0.6"/>
<text x="495.00" y="357.10" font-size="5.45" fill="#333" stroke="#333" stroke-width="0.06">Jurkat EZH2 KD1</text>
<rect x="484.30" y="362.70" width="7.40" height="2.80" fill="#1f4e7a" stroke="#333" stroke-width="0.6"/>
<text x="495.00" y="366.10" font-size="5.45" fill="#333" stroke="#333" stroke-width="0.06">Jurkat EZH2 KD2</text>
<rect x="484.30" y="371.70" width="7.40" height="2.80" fill="#f0a384" stroke="#333" stroke-width="0.6"/>
<text x="495.00" y="375.10" font-size="5.45" fill="#333" stroke="#333" stroke-width="0.06">HH EZH2 KD1</text>
<rect x="484.30" y="380.70" width="7.40" height="2.80" fill="#a8d5ee" stroke="#333" stroke-width="0.6"/>
<text x="495.00" y="384.10" font-size="5.45" fill="#333" stroke="#333" stroke-width="0.06">HH EZH2 KD2</text>
</svg></body></html>
